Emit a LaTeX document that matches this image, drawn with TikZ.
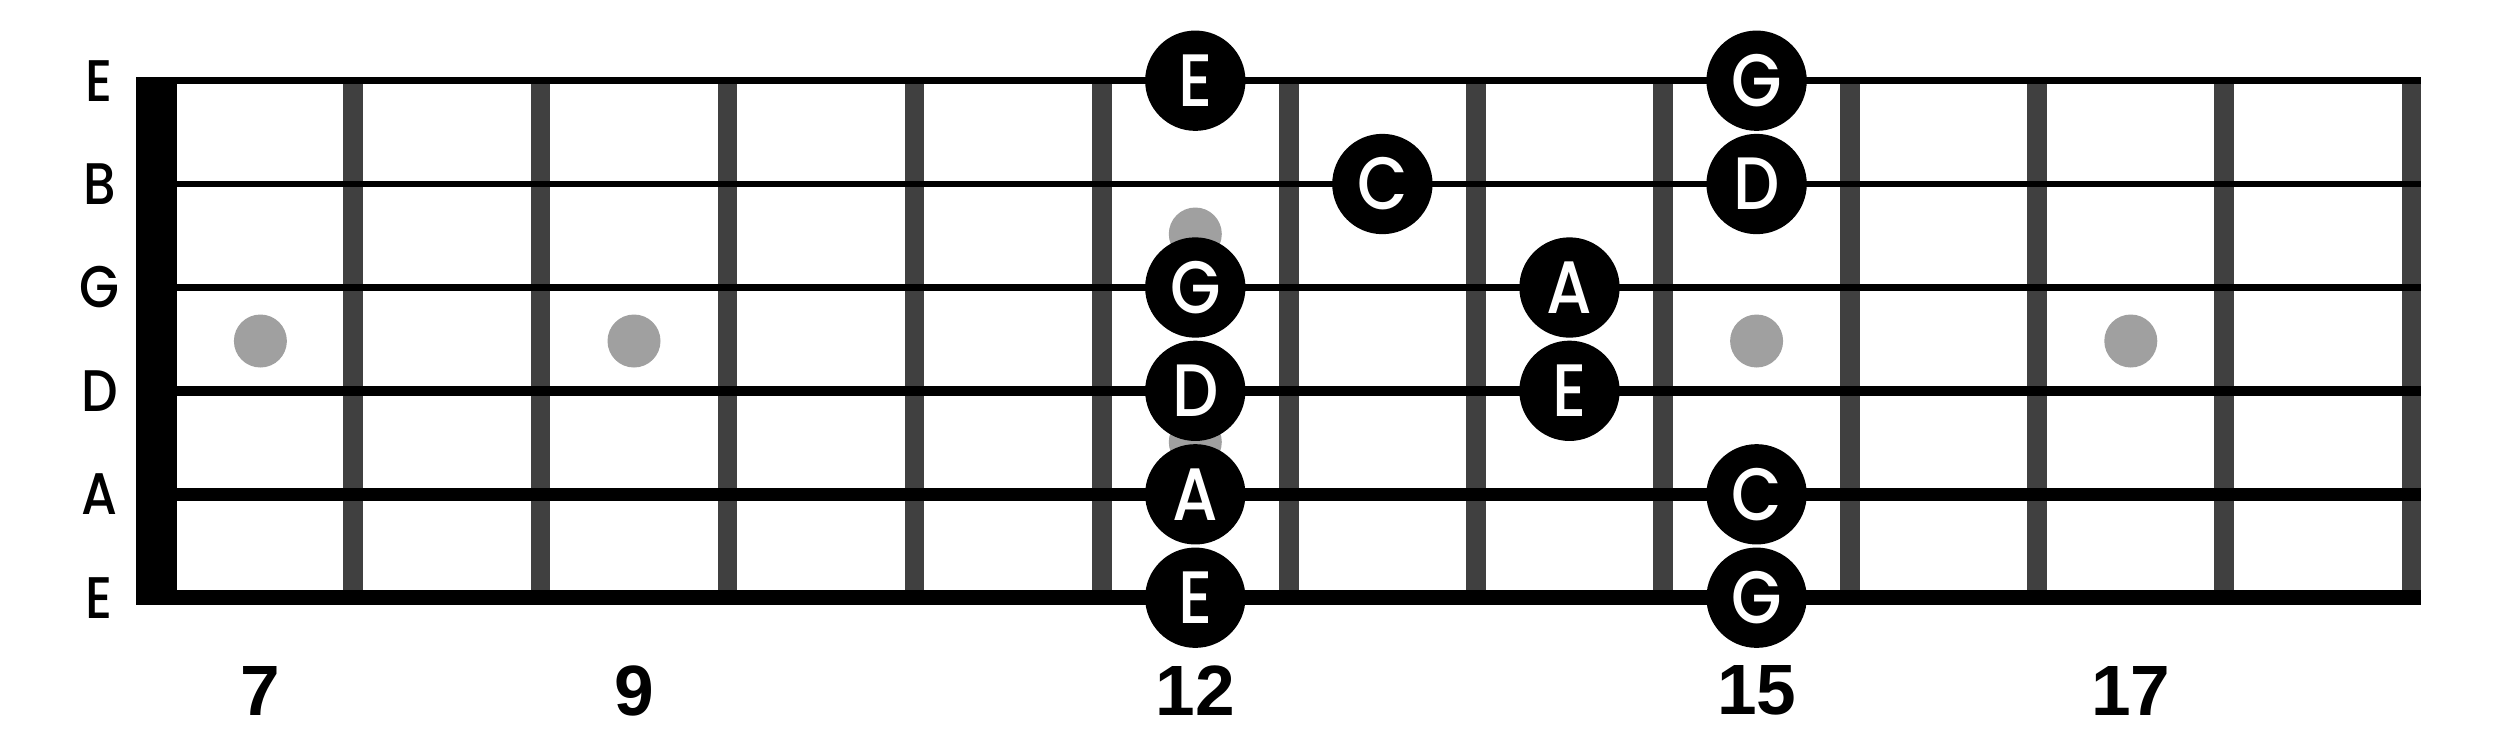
\documentclass[tikz,border=0pt]{standalone}
\usepackage{graphicx}
\usepackage{fontspec}
\setmainfont{Poppins Medium}
\newfontfamily\numfont{Liberation Sans}
\definecolor{fretgray}{HTML}{404040}
\definecolor{dotgray}{HTML}{A0A0A0}
\newlength\fittmpht
% #1 measuring character, #2 target height (pt), #3 horizontal factor, #4 text
\newcommand\fitcap[4]{\settoheight{\fittmpht}{#1}\pgfmathsetmacro\fitcy{#2/\fittmpht}\pgfmathsetmacro\fitcx{#3*\fitcy}\scalebox{\fitcx}[\fitcy]{#4}}
\newcommand\notelet[1]{\fitcap{E}{15.5}{0.88}{#1}}
\newcommand\strlet[1]{\fitcap{E}{12.25}{0.88}{#1}}
\newcommand\fretlet[1]{\fitcap{1}{14.7}{1.0}{#1}}
\begin{document}
\begin{tikzpicture}[x=0.3pt,y=-0.3pt,
  note/.style={circle,fill=black,minimum size=30.1pt,inner sep=0pt,text=white,font=\fontsize{20}{20}\selectfont},
  inlay/.style={circle,fill=dotgray,minimum size=15.9pt,inner sep=0pt},
  strlabel/.style={inner sep=0pt,font=\fontsize{16}{16}\selectfont},
  fretnum/.style={inner sep=0pt,font=\numfont\bfseries\fontsize{20.5}{20.5}\selectfont},
  fretwire/.style={draw=fretgray,line width=5.9pt},
  nutbar/.style={fill=black}]
\useasboundingbox (0,0) rectangle (2500,736);
\fill[white] (0,0) rectangle (2500,736);
% fret wires
\foreach \k in {7,...,18} {
  \coordinate (ft\k) at ({353.3+(\k-7)*187.1},78);
  \coordinate (fb\k) at ({353.3+(\k-7)*187.1},605);
  \draw[fretwire] (ft\k) -- (fb\k);
}
% strings
\foreach \s/\y/\w in {0/80.7/2.0, 1/184/2.0, 2/287.5/1.95, 3/390.8/2.9, 4/494.3/3.8, 5/597.7/4.6} {
  \coordinate (sl\s) at (170,\y);
  \coordinate (sr\s) at (2421.4,\y);
  \draw[line width=\w pt] (sl\s) -- (sr\s);
}
% nut
\fill[nutbar] (135.9,77.3) rectangle (177.3,605.3);
% inlays
\node[inlay] (i7) at (260.4,341) {};
\node[inlay] (i9) at (634,341) {};
\node[inlay] (i12a) at (1195.3,234) {};
\node[inlay] (i12b) at (1195.3,442) {};
\node[inlay] (i15) at (1756.6,341) {};
\node[inlay] (i17) at (2130.8,341) {};
% notes
\node[note] (n0a) at (1195.3,80.7) {\notelet{E}};
\node[note] (n0b) at (1756.6,80.7) {\notelet{G}};
\node[note] (n1a) at (1382.4,184) {\notelet{C}};
\node[note] (n1b) at (1756.6,184) {\notelet{D}};
\node[note] (n2a) at (1195.3,287.5) {\notelet{G}};
\node[note] (n2b) at (1569.5,287.5) {\notelet{A}};
\node[note] (n3a) at (1195.3,390.8) {\notelet{D}};
\node[note] (n3b) at (1569.5,390.8) {\notelet{E}};
\node[note] (n4a) at (1195.3,494.3) {\notelet{A}};
\node[note] (n4b) at (1756.6,494.3) {\notelet{C}};
\node[note] (n5a) at (1195.3,597.7) {\notelet{E}};
\node[note] (n5b) at (1756.6,597.7) {\notelet{G}};
% string names
\node[strlabel] (l0) at (99.5,80.7) {\strlet{E}};
\node[strlabel] (l1) at (99.5,184) {\strlet{B}};
\node[strlabel] (l2) at (99.5,287.5) {\strlet{G}};
\node[strlabel] (l3) at (99.5,390.8) {\strlet{D}};
\node[strlabel] (l4) at (99.5,494.3) {\strlet{A}};
\node[strlabel] (l5) at (99.5,597.7) {\strlet{E}};
% fret numbers
\node[fretnum] (f7) at (260.4,690.6) {\fretlet{7}};
\node[fretnum] (f9) at (634,690.6) {\fretlet{9}};
\node[fretnum] (f12) at (1195.3,690.6) {\fretlet{12}};
\node[fretnum] (f15) at (1756.6,690.6) {\fretlet{15}};
\node[fretnum] (f17) at (2130.8,690.6) {\fretlet{17}};
\end{tikzpicture}
\end{document}
